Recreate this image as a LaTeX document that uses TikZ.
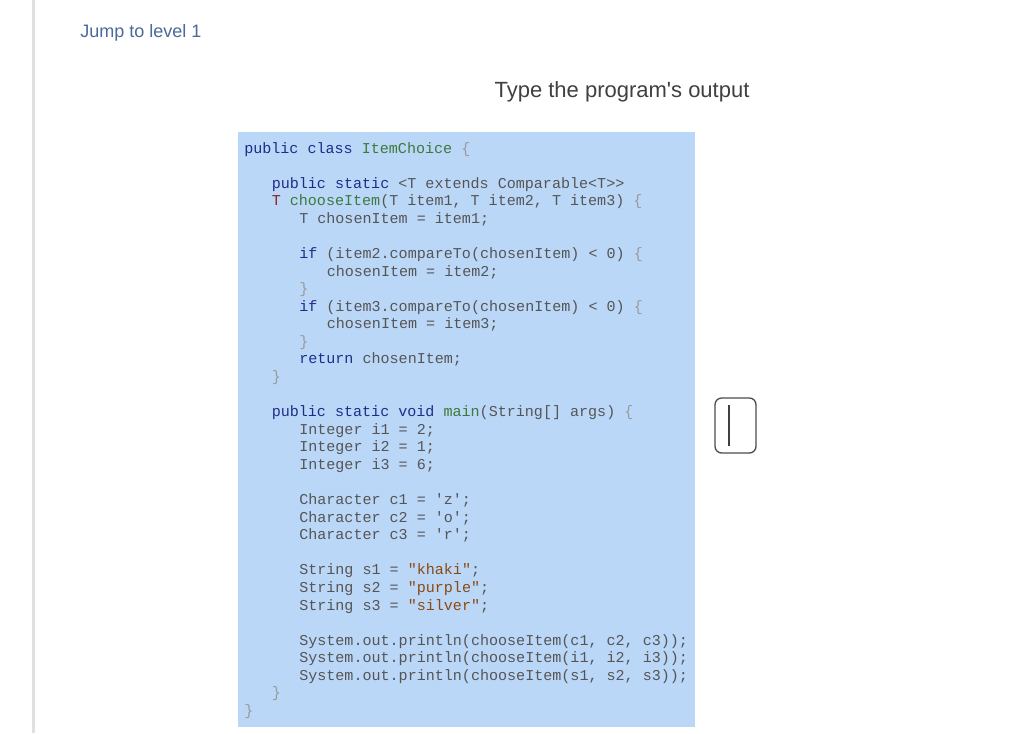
\documentclass[tikz,border=0pt]{standalone}
\usepackage{fontspec}
\setmainfont{Liberation Sans}
\setmonofont{Liberation Mono}
\definecolor{kw}{HTML}{1F2D8A}
\definecolor{cl}{HTML}{3C7A3C}
\definecolor{rt}{HTML}{8B2323}
\definecolor{pl}{HTML}{555555}
\definecolor{br}{HTML}{9A9A9A}
\definecolor{st}{HTML}{8A4A12}
\definecolor{codebg}{HTML}{BBD7F8}
\definecolor{jump}{HTML}{4A6A9A}
\newcommand\ckw[1]{\textcolor{kw}{#1}}
\newcommand\ccl[1]{\textcolor{cl}{#1}}
\newcommand\crt[1]{\textcolor{rt}{#1}}
\newcommand\cbr[1]{\textcolor{br}{#1}}
\newcommand\cst[1]{\textcolor{st}{#1}}
\tikzset{code/.style={anchor=base west,inner sep=0pt,font=\fontsize{11.3pt}{13pt}\ttfamily,text=pl}}
\newcommand\codeln[3]{\node[code] (l#2) at (244+27.5*#1,153+17.58*#2) {#3};}
\begin{document}
\begin{tikzpicture}[x=0.75pt,y=-0.75pt]
\useasboundingbox (0,0) rectangle (1024,733);
\fill[white] (0,0) rectangle (1024,733);
\fill[black!12] (32,0) rectangle (35,733);
\node[anchor=west,inner sep=0pt,text=jump,font=\fontsize{13.5pt}{16pt}\selectfont] (jump) at (80,33) {Jump to level 1};
\node[inner sep=0pt,text=black!75,font=\fontsize{16.5pt}{20pt}\selectfont] (title) at (622,92) {Type the program\textquotesingle s output};
\fill[codebg] (238,132) rectangle (695,727);
\codeln{0}{0}{\ckw{public class} \ccl{ItemChoice} \cbr{\{}}
\codeln{1}{2}{\ckw{public static} <T extends Comparable<T>{}>}
\codeln{1}{3}{\crt{T} \ccl{chooseItem}(T item1, T item2, T item3) \cbr{\{}}
\codeln{2}{4}{T chosenItem = item1;}
\codeln{2}{6}{\ckw{if} (item2.compareTo(chosenItem) < 0) \cbr{\{}}
\codeln{3}{7}{chosenItem = item2;}
\codeln{2}{8}{\cbr{\}}}
\codeln{2}{9}{\ckw{if} (item3.compareTo(chosenItem) < 0) \cbr{\{}}
\codeln{3}{10}{chosenItem = item3;}
\codeln{2}{11}{\cbr{\}}}
\codeln{2}{12}{\ckw{return} chosenItem;}
\codeln{1}{13}{\cbr{\}}}
\codeln{1}{15}{\ckw{public static void} \ccl{main}(String[] args) \cbr{\{}}
\codeln{2}{16}{Integer i1 = 2;}
\codeln{2}{17}{Integer i2 = 1;}
\codeln{2}{18}{Integer i3 = 6;}
\codeln{2}{20}{Character c1 = 'z';}
\codeln{2}{21}{Character c2 = 'o';}
\codeln{2}{22}{Character c3 = 'r';}
\codeln{2}{24}{String s1 = \cst{"khaki"};}
\codeln{2}{25}{String s2 = \cst{"purple"};}
\codeln{2}{26}{String s3 = \cst{"silver"};}
\codeln{2}{28}{System.out.println(chooseItem(c1, c2, c3));}
\codeln{2}{29}{System.out.println(chooseItem(i1, i2, i3));}
\codeln{2}{30}{System.out.println(chooseItem(s1, s2, s3));}
\codeln{1}{31}{\cbr{\}}}
\codeln{0}{32}{\cbr{\}}}
\draw[black!70,line width=1pt,rounded corners=5pt] (715,398) rectangle (756,453);
\draw[black!75,line width=1.6pt] (729,405) -- (729,446);
\end{tikzpicture}
\end{document}
